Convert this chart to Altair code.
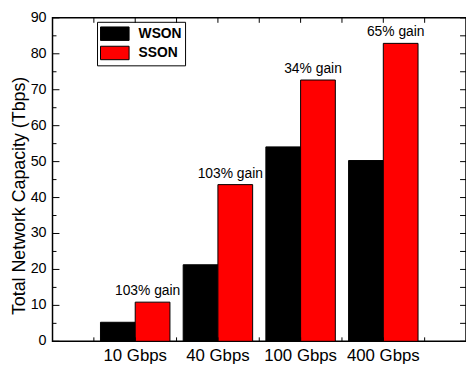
import altair as alt
import pandas as pd

categories = ["10 Gbps", "40 Gbps", "100 Gbps", "400 Gbps"]
wson = [5.3, 21.3, 54.1, 50.3]
sson = [10.9, 43.6, 72.7, 82.9]
gains = ["103% gain", "103% gain", "34% gain", "65% gain"]
series = ["WSON", "SSON"]
colors = ["#000000", "#ff0000"]
y_title = "Total Network Capacity (Tbps)"
y_major = list(range(0, 91, 10))
y_minor = list(range(5, 90, 10))
y_all = list(range(0, 91, 5))
x_ticks = [0.5, 1, 1.5, 2, 2.5, 3, 3.5, 4, 4.5]

FONT = "Liberation Sans"
W, H = 418, 327

idx = [i + 1 for i in range(len(categories))]
rows = []
for i, c in enumerate(categories):
    rows.append({"idx": idx[i], "cat": c, "series": "WSON", "value": wson[i]})
    rows.append({"idx": idx[i], "cat": c, "series": "SSON", "value": sson[i]})
df = pd.DataFrame(rows)
tdf = pd.DataFrame({"idx": idx, "value": sson, "gain": gains})
cdf = pd.DataFrame({"idx": idx, "cat": categories})

xs = alt.Scale(domain=[0, 5], nice=False, zero=False)
ys = alt.Scale(domain=[0, 90], nice=False)

bars = alt.Chart(df).transform_calculate(
    x0="datum.idx + (datum.series == 'WSON' ? -0.42 : 0)",
    x1="datum.idx + (datum.series == 'WSON' ? 0 : 0.42)",
).mark_bar(stroke="#000000", strokeWidth=1).encode(
    x=alt.X("x0:Q", scale=xs, axis=None),
    x2="x1:Q",
    y=alt.Y("value:Q", scale=ys, axis=None),
    y2=alt.datum(0),
    color=alt.Color("series:N", scale=alt.Scale(domain=series, range=colors),
                    legend=alt.Legend(title=None, orient="none", legendX=45, legendY=4,
                                      strokeColor="#000", padding=3,
                                      symbolType="M0,-0.4H1.7V0.4H0Z", symbolSize=1156,
                                      symbolStrokeColor="#000", symbolStrokeWidth=1,
                                      symbolOpacity=1, symbolOffset=-17, clipHeight=18,
                                      labelFont=FONT, labelFontSize=14, labelFontWeight="bold",
                                      labelColor="#000", labelOffset=21, rowPadding=1.5)),
)

text = alt.Chart(tdf).transform_calculate(
    xt="datum.idx + 0.15"
).mark_text(baseline="alphabetic", dy=-7, font=FONT, fontSize=14, color="#000").encode(
    x=alt.X("xt:Q", scale=xs, axis=None),
    y=alt.Y("value:Q", scale=ys, axis=None),
    text="gain:N",
)

# axis labels and title as text marks
ylabels = alt.Chart(pd.DataFrame({"v": y_major})).mark_text(
    align="right", baseline="middle", font=FONT, fontSize=14.5, color="#000"
).encode(y=alt.Y("v:Q", scale=ys, axis=None), x=alt.value(-6), text=alt.Text("v:Q"))

xlabels = alt.Chart(cdf).mark_text(
    align="center", baseline="alphabetic", font=FONT, fontSize=17, color="#000"
).encode(x=alt.X("idx:Q", scale=xs, axis=None), y=alt.value(H + 20), text="cat:N")

ytitle = alt.Chart(pd.DataFrame({"t": [y_title]})).mark_text(
    angle=270, align="center", baseline="bottom", font=FONT, fontSize=18, color="#000"
).encode(x=alt.value(-24), y=alt.value(180), text="t:N")

tick_style = dict(color="#000000", strokeWidth=1)
left_major = alt.Chart(pd.DataFrame({"v": y_major})).mark_rule(**tick_style).encode(
    y=alt.Y("v:Q", scale=ys, axis=None), x=alt.value(0), x2=alt.value(7))
left_minor = alt.Chart(pd.DataFrame({"v": y_minor})).mark_rule(**tick_style).encode(
    y=alt.Y("v:Q", scale=ys, axis=None), x=alt.value(0), x2=alt.value(4))
right_ticks = alt.Chart(pd.DataFrame({"v": y_all})).mark_rule(**tick_style).encode(
    y=alt.Y("v:Q", scale=ys, axis=None), x=alt.value(W - 6), x2=alt.value(W))
top_ticks = alt.Chart(pd.DataFrame({"v": x_ticks})).mark_rule(**tick_style).encode(
    x=alt.X("v:Q", scale=xs, axis=None), y=alt.value(0), y2=alt.value(5))
bottom_ticks = alt.Chart(pd.DataFrame({"v": x_ticks})).mark_rule(**tick_style).encode(
    x=alt.X("v:Q", scale=xs, axis=None), y=alt.value(H - 4), y2=alt.value(H))

chart = alt.layer(
    bars, text, ylabels, xlabels, ytitle,
    left_major, left_minor, right_ticks, top_ticks, bottom_ticks
).properties(
    width=W, height=H,
    autosize=alt.AutoSizeParams(type="none"),
    padding={"left": 45, "top": 8, "right": 0, "bottom": 24},
    background="#ffffff",
).configure_view(stroke="#000000", strokeWidth=1.5)

chart.save("out.html", embed_options={"renderer": "svg", "actions": False})
